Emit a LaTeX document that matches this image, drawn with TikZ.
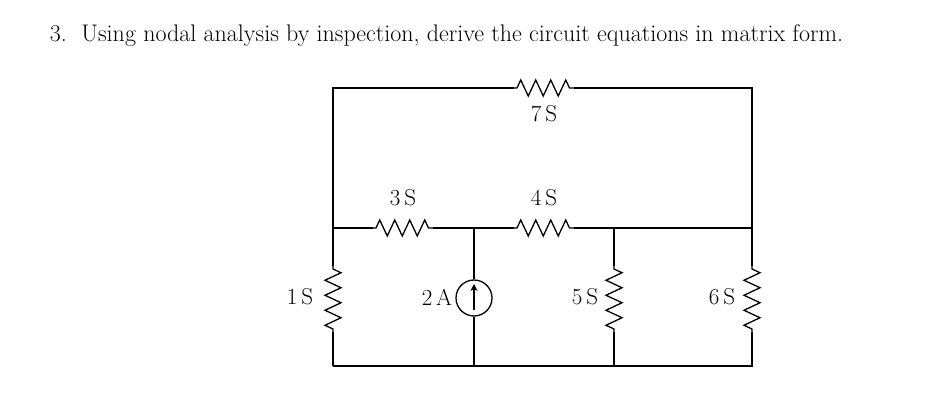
\documentclass[tikz,border=0pt]{standalone}
\usetikzlibrary{decorations.pathmorphing,arrows.meta}
\begin{document}
\begin{tikzpicture}[x=1pt,y=-1pt,line width=1.3pt,
  res/.style={decorate,decoration={zigzag,segment length=15pt,amplitude=8pt,pre length=3pt,post length=3pt}},
  lab/.style={font=\fontsize{23}{23}\selectfont}]
\useasboundingbox (0,0) rectangle (937,401);
% coordinates
\coordinate (TL) at (333,88); \coordinate (TR) at (752,88);
\coordinate (ML) at (333,228); \coordinate (MR) at (752,228);
\coordinate (M1) at (474,228); \coordinate (M2) at (614,228);
\coordinate (BL) at (333,366); \coordinate (BR) at (752,366);
\coordinate (B1) at (474,366); \coordinate (B2) at (614,366);
\coordinate (r7a) at (514,88); \coordinate (r7b) at (574,88);
\coordinate (r3a) at (373,228); \coordinate (r3b) at (433,228);
\coordinate (r4a) at (514,228); \coordinate (r4b) at (574,228);
\coordinate (r1a) at (333,266); \coordinate (r1b) at (333,332);
\coordinate (r5a) at (614,266); \coordinate (r5b) at (614,332);
\coordinate (r6a) at (752,266); \coordinate (r6b) at (752,332);
\node[circle,draw,line width=1.3pt,minimum size=36pt,inner sep=0pt] (cs) at (474,298) {};
% wires
\draw (BL) -- (r1b); \draw (r1a) -- (ML) -- (TL) -- (r7a);
\draw (r7b) -- (TR) -- (MR) -- (r6a); \draw (r6b) -- (BR) -- (BL);
\draw (ML) -- (r3a); \draw (r3b) -- (M1) -- (r4a); \draw (r4b) -- (MR);
\draw (M1) -- (cs.north); \draw (cs.south) -- (B1);
\draw (M2) -- (r5a); \draw (r5b) -- (B2);
% resistors
\foreach \a/\b in {r7a/r7b,r3a/r3b,r4a/r4b,r1a/r1b,r5a/r5b,r6a/r6b}
  \draw[res] (\a) -- (\b);
% arrow in source
\draw[-{Stealth[length=7pt,width=7pt]}] (474,310) -- (474,284);
% labels
\node[lab] (l7) at (544,114) {7\,S};
\node[lab] (l3) at (403,198) {3\,S};
\node[lab] (l4) at (544,198) {4\,S};
\node[lab] (l1) at (300,297) {1\,S};
\node[lab] (l2) at (437,297) {2\,A};
\node[lab] (l5) at (585,297) {5\,S};
\node[lab] (l6) at (722,297) {6\,S};
\node[anchor=west,font=\fontsize{24}{24}\selectfont] (t) at (46,36) {3.\ \ Using nodal analysis by inspection, derive the circuit equations in matrix form.};
\end{tikzpicture}
\end{document}
